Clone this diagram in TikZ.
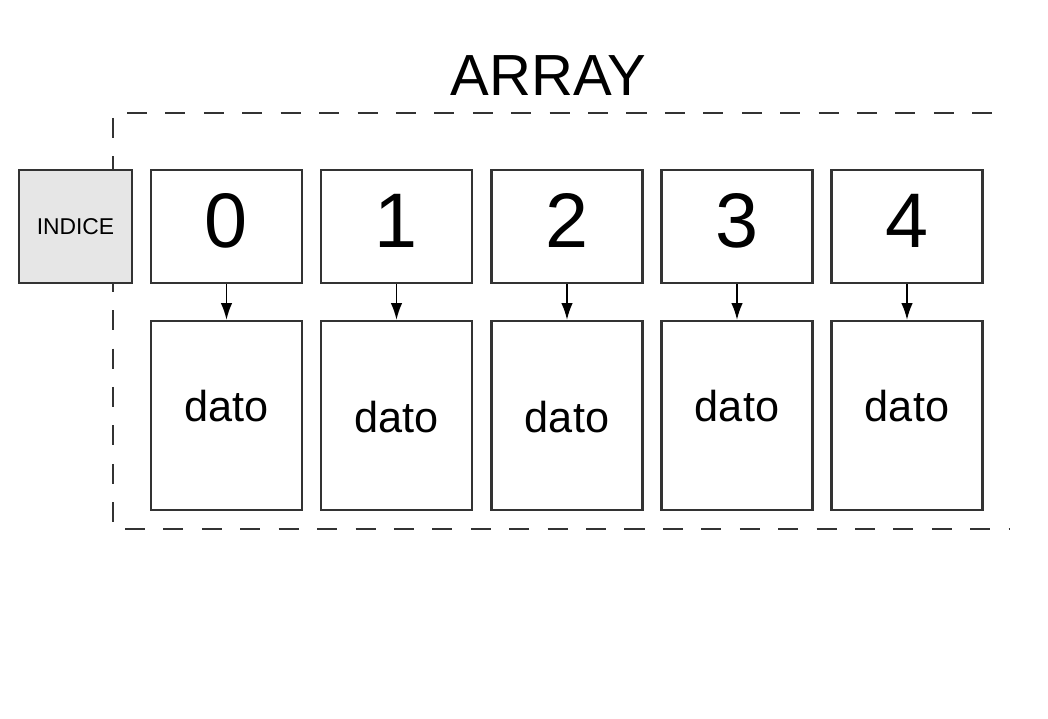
\documentclass[tikz,border=0pt]{standalone}
\usepackage{xcolor}
\usepackage{tikz}
\usepackage{fontspec}
\setmainfont{Liberation Sans}
\usetikzlibrary{shapes,arrows,positioning,calc,arrows.meta}
\definecolor{linegray}{HTML}{333333}
\definecolor{indexgray}{HTML}{E6E6E6}

\begin{document}
\begin{tikzpicture}[x=0.01cm, y=-0.01cm,
    idxbox/.style={draw=linegray, line width=0.6pt, fill=white, minimum width=1.51cm, minimum height=1.13cm, inner sep=0pt, text height=12.2pt, text depth=0pt, font=\fontsize{22}{24}\selectfont},
    databox/.style={draw=linegray, line width=0.6pt, fill=white, minimum width=1.51cm, minimum height=1.89cm, inner sep=0pt, text height=3.7pt, text depth=0pt, font=\fontsize{12.3}{14}\selectfont},
    border/.style={draw=linegray, line width=0.6pt, dash pattern=on 0.2cm off 0.184cm},
    link/.style={draw=black, line width=0.5pt, -{Latex[length=4.8pt,width=3.3pt]}}]
    \useasboundingbox (0,0) rectangle (1048,719);

    \node[anchor=base, font=\fontsize{16.5}{18}\selectfont] (title) at (548.5,96) {ARRAY};

    % dashed frame, open on the right
    \draw[border] (127,113) -- (992,113);
    \draw[border] (113,118) -- (113,526);
    \draw[border] (125,529) -- (1010,529);

    \node[draw=linegray, line width=0.6pt, fill=indexgray, minimum width=1.13cm, minimum height=1.13cm, inner sep=0pt, text height=4.8pt, text depth=0pt, font=\fontsize{6.5}{8}\selectfont] (indice) at (75.5,226.5) {INDICE};

    \node[idxbox] (i0) at (226.5,226.5) {0};
    \node[idxbox] (i1) at (396.5,226.5) {1};
    \node[idxbox] (i2) at (567,226.5) {2};
    \node[idxbox] (i3) at (737,226.5) {3};
    \node[idxbox] (i4) at (907,226.5) {4};

    \node[databox] (d0) at (226.5,415.5) {dato};
    \node[databox, text height=9.4pt] (d1) at (396.5,415.5) {dato};
    \node[databox, text height=9.4pt] (d2) at (567,415.5) {dato};
    \node[databox] (d3) at (737,415.5) {dato};
    \node[databox] (d4) at (907,415.5) {dato};

    \draw[link] (i0) -- (d0);
    \draw[link] (i1) -- (d1);
    \draw[link] (i2) -- (d2);
    \draw[link] (i3) -- (d3);
    \draw[link] (i4) -- (d4);
\end{tikzpicture}
\end{document}
